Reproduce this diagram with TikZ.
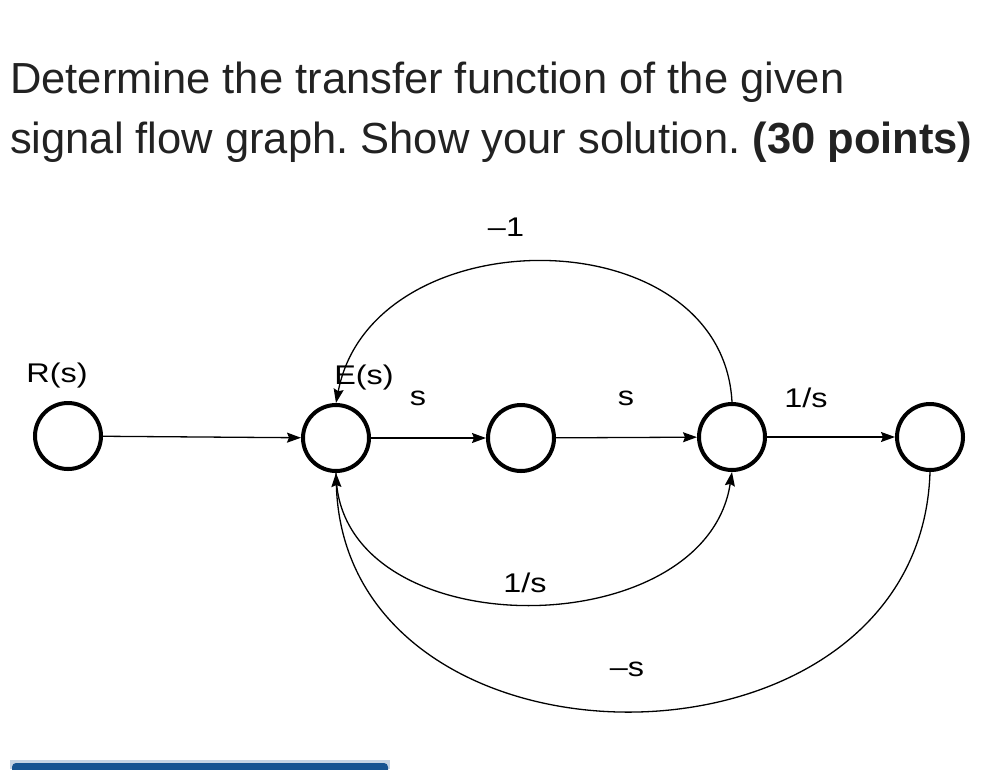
\documentclass[tikz,border=0pt]{standalone}
\usepackage{fontspec}
\setmainfont{Liberation Sans}
\usetikzlibrary{arrows.meta}
\definecolor{txt}{RGB}{34,34,34}
\definecolor{barblue}{RGB}{22,84,145}
\frenchspacing
\begin{document}
\begin{tikzpicture}[x=1pt,y=-1pt,
  sfnode/.style={circle,draw=black,line width=4pt,minimum size=66pt,inner sep=0pt},
  gain/.style={font=\fontsize{27}{30}\selectfont,text=black,inner sep=0pt},
  edge/.style={line width=1.3pt,-{Stealth[length=14pt,width=10pt,inset=2pt]}},
  title/.style={font=\fontsize{43.5}{50}\selectfont,text=txt,anchor=base west,inner sep=0pt}]
\useasboundingbox (0,0) rectangle (984,769);
\fill[white] (0,0) rectangle (984,769);
% title
\node[title] (t1) at (10,93) {Determine the transfer function of the given};
\node[title] (t2) at (10,153) {signal flow graph. Show your solution. \textbf{(30 points)}};
% nodes
\node[sfnode] (R) at (68,436) {};
\node[sfnode] (E) at (336,438) {};
\node[sfnode] (M) at (521,438) {};
\node[sfnode] (N) at (732,437) {};
\node[sfnode] (O) at (930,437) {};
% straight branches
\draw[edge] (R) -- (E);
\draw[edge] (E) -- (M);
\draw[edge] (M) -- (N);
\draw[edge] (N) -- (O);
% feedback -1
\draw[edge] (N.north) .. controls (722,215) and (372,215) .. (E.north);
% 1/s from E to N
\draw[edge] (E.south) .. controls (337,648) and (705,648) .. (N.south);
% -s from O to E
\draw[edge] (O.south) .. controls (920,790) and (345,790) .. (E.south);
% labels
\node[gain] (lR) at (57,376) {\scalebox{1.2}[1]{R(s)}};
\node[gain] (lE) at (364,378) {\scalebox{1.2}[1]{E(s)}};
\node[gain] (l1) at (418,398) {\scalebox{1.2}[1]{s}};
\node[gain] (l2) at (626,398) {\scalebox{1.2}[1]{s}};
\node[gain] (l3) at (806,398) {\scalebox{1.2}[1]{1/s}};
\node[gain] (lm1) at (506,227) {\scalebox{1.2}[1]{\textendash1}};
\node[gain] (l4) at (525,583) {\scalebox{1.2}[1]{1/s}};
\node[gain] (l5) at (627,669) {\scalebox{1.2}[1]{\textendash s}};
% bottom bar
\fill[barblue!25] (10,760) rectangle (390,769);
\fill[barblue,rounded corners=4pt] (12,763) rectangle (388,778);
\end{tikzpicture}
\end{document}
